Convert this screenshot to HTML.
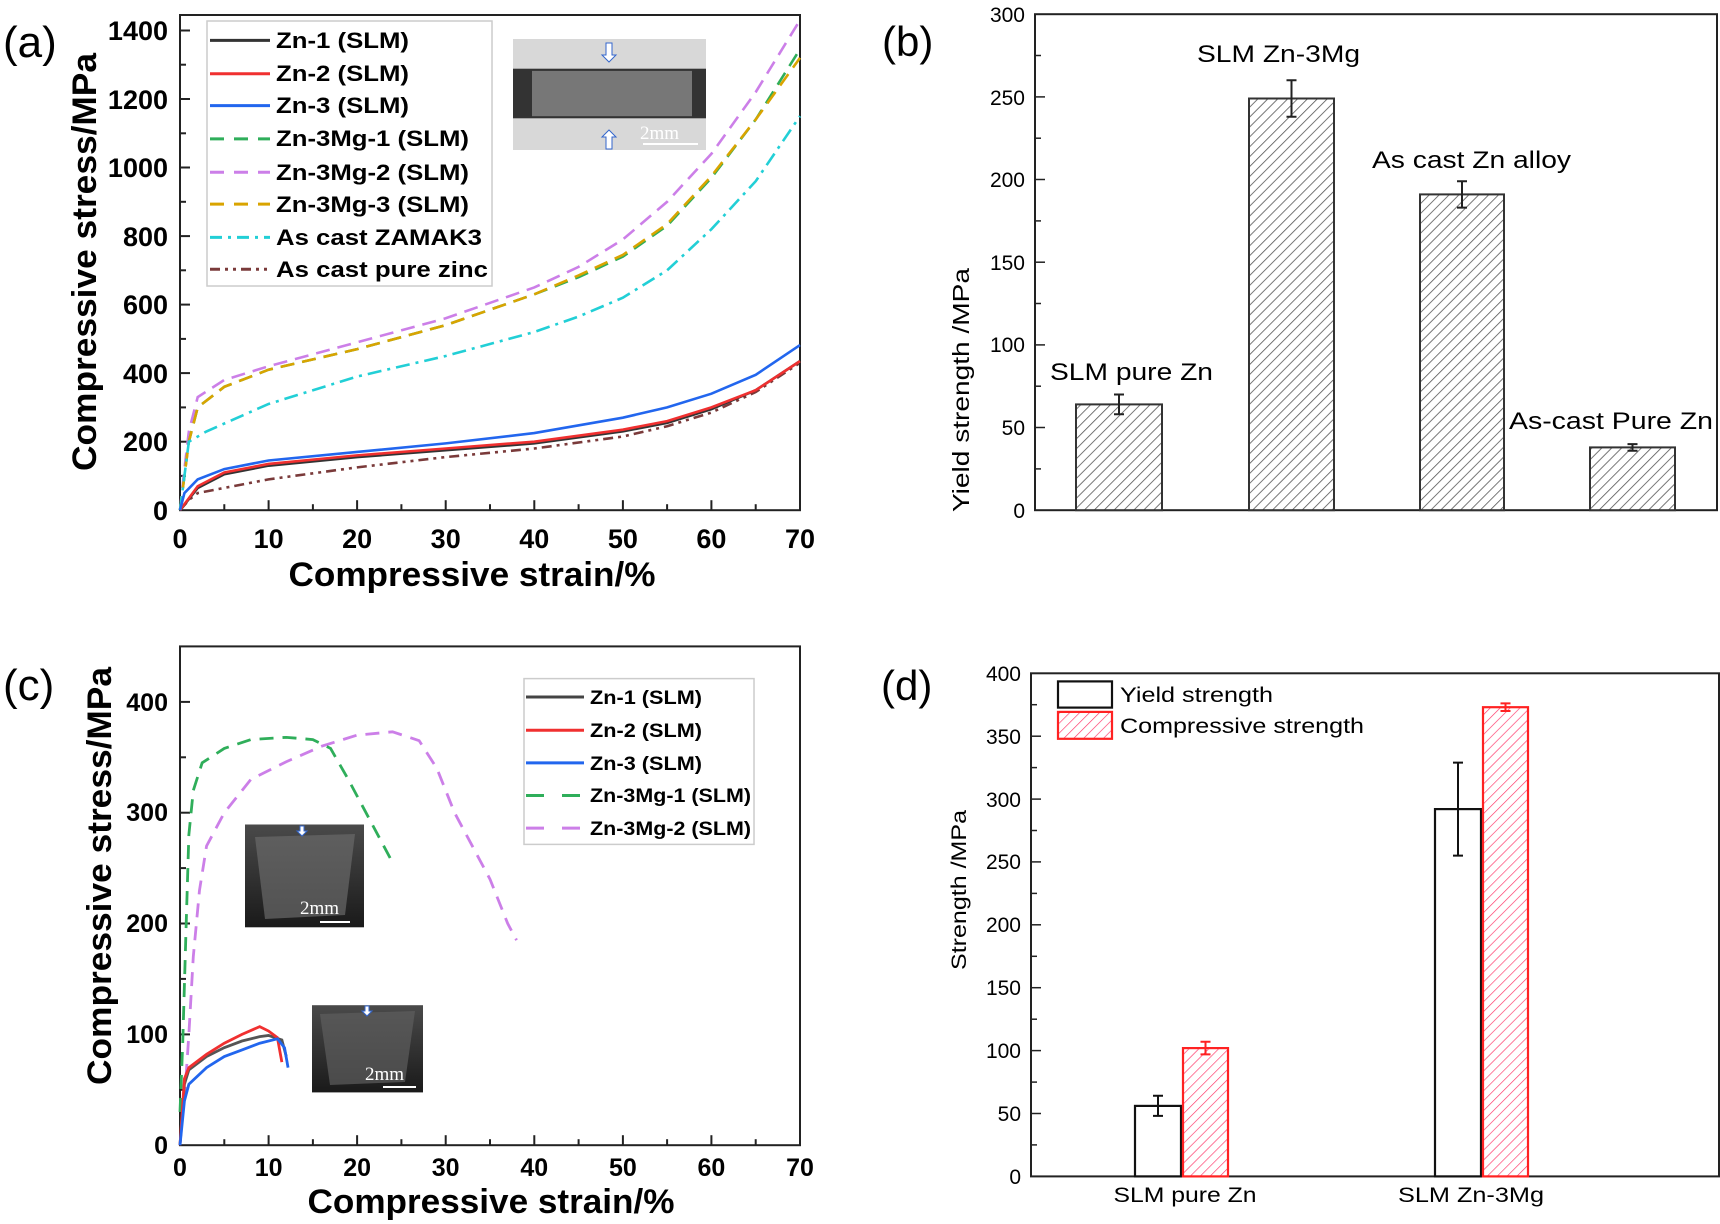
<!DOCTYPE html>
<html><head><meta charset="utf-8"><style>
html,body{margin:0;padding:0;background:#fff;overflow:hidden;}
svg{display:block;font-family:"Liberation Sans",Arial,sans-serif;}
.nss{vector-effect:non-scaling-stroke;fill:none;}
</style></head><body>
<svg width="1720" height="1224" viewBox="0 0 1720 1224" xmlns="http://www.w3.org/2000/svg">
<defs>
<pattern id="hb" patternUnits="userSpaceOnUse" width="7" height="7" patternTransform="rotate(45)">
<rect width="7" height="7" fill="#fff"/><line x1="0" y1="0" x2="0" y2="7" stroke="#555" stroke-width="1.6"/></pattern>
<pattern id="hr" patternUnits="userSpaceOnUse" width="7" height="7" patternTransform="rotate(45)">
<rect width="7" height="7" fill="#fff"/><line x1="0" y1="0" x2="0" y2="7" stroke="#f36" stroke-width="1.3"/></pattern>
<linearGradient id="ph" x1="0" y1="0" x2="0" y2="1"><stop offset="0" stop-color="#4a4a4a"/><stop offset="1" stop-color="#1a1a1a"/></linearGradient>
</defs>

<!-- ===== Panel (a) ===== -->
<text x="3" y="57" font-size="44">(a)</text>
<rect x="180" y="15" width="620" height="495.2" fill="none" stroke="#222" stroke-width="2"/>
<g stroke="#222" stroke-width="2">
<line x1="268.6" y1="510.2" x2="268.6" y2="500.2"/><line x1="357.1" y1="510.2" x2="357.1" y2="500.2"/><line x1="445.7" y1="510.2" x2="445.7" y2="500.2"/><line x1="534.3" y1="510.2" x2="534.3" y2="500.2"/><line x1="622.9" y1="510.2" x2="622.9" y2="500.2"/><line x1="711.4" y1="510.2" x2="711.4" y2="500.2"/>
<line x1="224.3" y1="510.2" x2="224.3" y2="504.2"/><line x1="312.9" y1="510.2" x2="312.9" y2="504.2"/><line x1="401.4" y1="510.2" x2="401.4" y2="504.2"/><line x1="490" y1="510.2" x2="490" y2="504.2"/><line x1="578.6" y1="510.2" x2="578.6" y2="504.2"/><line x1="667.1" y1="510.2" x2="667.1" y2="504.2"/><line x1="755.7" y1="510.2" x2="755.7" y2="504.2"/>
<line x1="180" y1="441.7" x2="190" y2="441.7"/><line x1="180" y1="373.1" x2="190" y2="373.1"/><line x1="180" y1="304.6" x2="190" y2="304.6"/><line x1="180" y1="236.1" x2="190" y2="236.1"/><line x1="180" y1="167.5" x2="190" y2="167.5"/><line x1="180" y1="99" x2="190" y2="99"/><line x1="180" y1="30.5" x2="190" y2="30.5"/>
<line x1="180" y1="475.9" x2="186" y2="475.9"/><line x1="180" y1="407.4" x2="186" y2="407.4"/><line x1="180" y1="338.9" x2="186" y2="338.9"/><line x1="180" y1="270.3" x2="186" y2="270.3"/><line x1="180" y1="201.8" x2="186" y2="201.8"/><line x1="180" y1="133.3" x2="186" y2="133.3"/><line x1="180" y1="64.7" x2="186" y2="64.7"/>
</g>
<g font-size="27" font-weight="bold" text-anchor="end">
<text x="168" y="520">0</text><text x="168" y="451">200</text><text x="168" y="383">400</text><text x="168" y="314">600</text><text x="168" y="246">800</text><text x="168" y="177">1000</text><text x="168" y="109">1200</text><text x="168" y="40">1400</text>
</g>
<g font-size="27" font-weight="bold" text-anchor="middle">
<text x="180" y="548">0</text><text x="268.6" y="548">10</text><text x="357.1" y="548">20</text><text x="445.7" y="548">30</text><text x="534.3" y="548">40</text><text x="622.9" y="548">50</text><text x="711.4" y="548">60</text><text x="800" y="548">70</text>
</g>
<text x="472" y="586" font-size="34" font-weight="bold" text-anchor="middle" textLength="367" lengthAdjust="spacingAndGlyphs">Compressive strain/%</text>
<text transform="translate(96,262) rotate(-90)" font-size="34" font-weight="bold" text-anchor="middle" textLength="418" lengthAdjust="spacingAndGlyphs">Compressive stress/MPa</text>

<!-- inset a -->
<rect x="513" y="39" width="193" height="111" fill="#d8d8d8"/>
<rect x="513" y="68.7" width="193" height="49.6" fill="#333"/>
<rect x="532" y="70.9" width="160" height="45.3" fill="#777"/>
<text x="640" y="139" font-family="Liberation Serif" font-size="19" fill="#fff">2mm</text>
<line x1="643" y1="144" x2="698" y2="144" stroke="#fff" stroke-width="2"/>
<path d="M606 43 v12 h-4 l7 7 l7 -7 h-4 v-12z" fill="#fff" stroke="#36c"/>
<path d="M606 149 v-12 h-4 l7 -7 l7 7 h-4 v12z" fill="#fff" stroke="#36c"/>

<g transform="translate(180,510.2) scale(8.857,-0.3427)" stroke-width="2.6">
<polyline class="nss" stroke="#cc7fe8" stroke-dasharray="14,8" points="0,0 0.5,120 1,230 2,330 5,380 10,420 20,490 30,560 40,650 45,710 50,790 55,900 60,1040 65,1220 70,1430"/>
<polyline class="nss" stroke="#2fae5a" stroke-dasharray="14,8" points="0,0 0.5,100 1,200 2,300 5,360 10,410 20,470 30,540 40,630 45,680 50,740 55,830 60,970 65,1140 70,1345"/>
<polyline class="nss" stroke="#d9a400" stroke-dasharray="14,8" points="0,0 0.5,100 1,200 2,300 5,360 10,410 20,470 30,540 40,630 45,685 50,745 55,835 60,975 65,1140 70,1320"/>
<polyline class="nss" stroke="#22cfd6" stroke-dasharray="14,6,3,6" points="0,0 0.5,100 1,200 3,230 10,310 20,390 30,450 40,520 45,565 50,620 55,700 60,820 65,960 70,1150"/>
<polyline class="nss" stroke="#7a3a3a" stroke-dasharray="10,5,3,5,3,5" points="0,0 1,30 2,50 10,90 20,125 30,155 40,180 50,215 55,245 60,285 65,345 70,430"/>
<polyline class="nss" stroke="#333" points="0,0 2,65 5,105 10,130 20,155 30,175 40,195 50,230 55,255 60,295 65,350 70,435"/>
<polyline class="nss" stroke="#f03030" points="0,0 2,70 5,110 10,135 20,160 30,180 40,200 50,235 55,260 60,300 65,350 70,435"/>
<polyline class="nss" stroke="#2266ee" points="0,0 0.5,50 2,90 5,120 10,145 20,170 30,195 40,225 50,270 55,300 60,340 65,395 70,482"/>
</g>

<!-- legend a -->
<rect x="207" y="21" width="285" height="265" fill="#fff" stroke="#ccc" stroke-width="1.5"/>
<g stroke-width="3">
<line x1="210" y1="40.4" x2="270" y2="40.4" stroke="#333"/>
<line x1="210" y1="73.7" x2="270" y2="73.7" stroke="#f03030"/>
<line x1="210" y1="105.6" x2="270" y2="105.6" stroke="#2266ee"/>
<line x1="210" y1="138.9" x2="270" y2="138.9" stroke="#2fae5a" stroke-dasharray="14,10"/>
<line x1="210" y1="172.2" x2="270" y2="172.2" stroke="#cc7fe8" stroke-dasharray="14,10"/>
<line x1="210" y1="204.1" x2="270" y2="204.1" stroke="#d9a400" stroke-dasharray="14,10"/>
<line x1="210" y1="237.4" x2="270" y2="237.4" stroke="#22cfd6" stroke-dasharray="12,6,3,6"/>
<line x1="210" y1="269.3" x2="270" y2="269.3" stroke="#7a3a3a" stroke-dasharray="10,5,3,5,3,5"/>
</g>
<g font-size="22" font-weight="bold">
<text x="276" y="48" textLength="133" lengthAdjust="spacingAndGlyphs">Zn-1 (SLM)</text>
<text x="276" y="81" textLength="133" lengthAdjust="spacingAndGlyphs">Zn-2 (SLM)</text>
<text x="276" y="113" textLength="133" lengthAdjust="spacingAndGlyphs">Zn-3 (SLM)</text>
<text x="276" y="146" textLength="193" lengthAdjust="spacingAndGlyphs">Zn-3Mg-1 (SLM)</text>
<text x="276" y="180" textLength="193" lengthAdjust="spacingAndGlyphs">Zn-3Mg-2 (SLM)</text>
<text x="276" y="212" textLength="193" lengthAdjust="spacingAndGlyphs">Zn-3Mg-3 (SLM)</text>
<text x="276" y="245" textLength="206" lengthAdjust="spacingAndGlyphs">As cast ZAMAK3</text>
<text x="276" y="277" textLength="212" lengthAdjust="spacingAndGlyphs">As cast pure zinc</text>
</g>

<!-- ===== Panel (b) ===== -->
<text x="882" y="56" font-size="42">(b)</text>
<rect x="1035" y="14.2" width="682" height="496" fill="none" stroke="#222" stroke-width="2"/>
<g stroke="#222" stroke-width="1.5">
<line x1="1035" y1="427.5" x2="1045" y2="427.5"/><line x1="1035" y1="344.9" x2="1045" y2="344.9"/><line x1="1035" y1="262.2" x2="1045" y2="262.2"/><line x1="1035" y1="179.5" x2="1045" y2="179.5"/><line x1="1035" y1="96.9" x2="1045" y2="96.9"/>
<line x1="1035" y1="468.9" x2="1041" y2="468.9"/><line x1="1035" y1="386.2" x2="1041" y2="386.2"/><line x1="1035" y1="303.5" x2="1041" y2="303.5"/><line x1="1035" y1="220.9" x2="1041" y2="220.9"/><line x1="1035" y1="138.2" x2="1041" y2="138.2"/><line x1="1035" y1="55.5" x2="1041" y2="55.5"/>
</g>
<g font-size="21" text-anchor="end">
<text x="1025" y="518">0</text><text x="1025" y="435">50</text><text x="1025" y="352">100</text><text x="1025" y="270">150</text><text x="1025" y="187">200</text><text x="1025" y="105">250</text><text x="1025" y="22">300</text>
</g>
<text transform="translate(969,390) rotate(-90)" font-size="23" text-anchor="middle" textLength="244" lengthAdjust="spacingAndGlyphs">Yield strength /MPa</text>
<g stroke="#333" stroke-width="2" fill="url(#hb)">
<rect x="1076" y="404.4" width="86" height="105.8"/>
<rect x="1249" y="98.5" width="85" height="411.7"/>
<rect x="1420" y="194.4" width="84" height="315.8"/>
<rect x="1590" y="447.4" width="85" height="62.8"/>
</g>
<g stroke="#222" stroke-width="2">
<path d="M1119 394.5v19.8M1114 394.5h10M1114 414.3h10"/>
<path d="M1291.5 80.3v36.4M1286.5 80.3h10M1286.5 116.7h10"/>
<path d="M1462 181.2v26.4M1457 181.2h10M1457 207.6h10"/>
<path d="M1632.5 444.1v6.6M1627.5 444.1h10M1627.5 450.7h10"/>
</g>
<g font-size="24">
<text x="1050" y="380" textLength="163" lengthAdjust="spacingAndGlyphs">SLM pure Zn</text>
<text x="1197" y="62" textLength="163" lengthAdjust="spacingAndGlyphs">SLM Zn-3Mg</text>
<text x="1372" y="168" textLength="199" lengthAdjust="spacingAndGlyphs">As cast Zn alloy</text>
<text x="1509" y="429" textLength="204" lengthAdjust="spacingAndGlyphs">As-cast Pure Zn</text>
</g>

<!-- ===== Panel (c) ===== -->
<text x="3" y="700" font-size="44">(c)</text>
<rect x="180" y="646.4" width="620" height="498.8" fill="none" stroke="#222" stroke-width="2"/>
<g stroke="#222" stroke-width="2">
<line x1="268.6" y1="1145.2" x2="268.6" y2="1135.2"/><line x1="357.1" y1="1145.2" x2="357.1" y2="1135.2"/><line x1="445.7" y1="1145.2" x2="445.7" y2="1135.2"/><line x1="534.3" y1="1145.2" x2="534.3" y2="1135.2"/><line x1="622.9" y1="1145.2" x2="622.9" y2="1135.2"/><line x1="711.4" y1="1145.2" x2="711.4" y2="1135.2"/>
<line x1="224.3" y1="1145.2" x2="224.3" y2="1139.2"/><line x1="312.9" y1="1145.2" x2="312.9" y2="1139.2"/><line x1="401.4" y1="1145.2" x2="401.4" y2="1139.2"/><line x1="490" y1="1145.2" x2="490" y2="1139.2"/><line x1="578.6" y1="1145.2" x2="578.6" y2="1139.2"/><line x1="667.1" y1="1145.2" x2="667.1" y2="1139.2"/><line x1="755.7" y1="1145.2" x2="755.7" y2="1139.2"/>
<line x1="180" y1="1034.4" x2="190" y2="1034.4"/><line x1="180" y1="923.5" x2="190" y2="923.5"/><line x1="180" y1="812.7" x2="190" y2="812.7"/><line x1="180" y1="701.9" x2="190" y2="701.9"/>
<line x1="180" y1="1089.8" x2="186" y2="1089.8"/><line x1="180" y1="978.9" x2="186" y2="978.9"/><line x1="180" y1="868.1" x2="186" y2="868.1"/><line x1="180" y1="757.3" x2="186" y2="757.3"/>
</g>
<g font-size="25" font-weight="bold" text-anchor="end">
<text x="168" y="1154">0</text><text x="168" y="1043">100</text><text x="168" y="932">200</text><text x="168" y="821">300</text><text x="168" y="711">400</text>
</g>
<g font-size="25" font-weight="bold" text-anchor="middle">
<text x="180" y="1176">0</text><text x="268.6" y="1176">10</text><text x="357.1" y="1176">20</text><text x="445.7" y="1176">30</text><text x="534.3" y="1176">40</text><text x="622.9" y="1176">50</text><text x="711.4" y="1176">60</text><text x="800" y="1176">70</text>
</g>
<text x="491" y="1213" font-size="34" font-weight="bold" text-anchor="middle" textLength="367" lengthAdjust="spacingAndGlyphs">Compressive strain/%</text>
<text transform="translate(111,876) rotate(-90)" font-size="34" font-weight="bold" text-anchor="middle" textLength="418" lengthAdjust="spacingAndGlyphs">Compressive stress/MPa</text>

<g transform="translate(180,1145.2) scale(8.857,-1.1083)" stroke-width="2.8">
<polyline class="nss" stroke="#cc7fe8" stroke-dasharray="14,9" points="0.5,40 1,100 1.5,170 2.2,230 3,270 5,300 8,330 12,346 16,360 20,370 24,373 27,365 29,340 31,300 33,270 35,240 37,200 38,185"/>
<polyline class="nss" stroke="#2fae5a" stroke-dasharray="14,9" points="0,30 0.3,90 0.7,200 1,280 1.5,320 2.5,345 5,358 8,366 12,368 15,366 17,358 19,330 21,300 23,270 24,255"/>
<polyline class="nss" stroke="#555" points="0,0 0.5,55 1,68 3,80 5,88 7,94 9,98 10,99 11.5,95 12,80"/>
<polyline class="nss" stroke="#f03030" points="0,0 0.5,60 1,70 3,82 5,92 7,100 9,107 10,103 11,97 11.5,75"/>
<polyline class="nss" stroke="#2266ee" points="0,0 0.5,40 1,55 3,70 5,80 7,86 9,92 11,96 11.8,88 12.2,70"/>
</g>

<!-- insets c -->
<rect x="245" y="824.5" width="119" height="102.8" fill="url(#ph)"/>
<path d="M255 837 L355 834 L345 915 L265 919 Z" fill="#6a6a6a" opacity="0.7"/>
<text x="300" y="914" font-family="Liberation Serif" font-size="19" fill="#fff">2mm</text>
<line x1="320" y1="922" x2="350" y2="922" stroke="#fff" stroke-width="2"/>
<rect x="312" y="1005.2" width="111" height="87.2" fill="url(#ph)"/>
<path d="M320 1014 L415 1011 L405 1082 L330 1085 Z" fill="#5e5e5e" opacity="0.7"/>
<text x="365" y="1080" font-family="Liberation Serif" font-size="19" fill="#fff">2mm</text>
<line x1="383" y1="1087" x2="416" y2="1087" stroke="#fff" stroke-width="2"/>
<path d="M300 826 v5 h-3 l5 5 l5 -5 h-3 v-5z" fill="#fff" stroke="#36c"/>
<path d="M365 1006 v5 h-3 l5 5 l5 -5 h-3 v-5z" fill="#fff" stroke="#36c"/>

<!-- legend c -->
<rect x="524" y="678.6" width="230" height="165.8" fill="#fff" stroke="#ccc" stroke-width="1.5"/>
<g stroke-width="3">
<line x1="526" y1="697" x2="584" y2="697" stroke="#444"/>
<line x1="526" y1="730.3" x2="584" y2="730.3" stroke="#f03030"/>
<line x1="526" y1="762.9" x2="584" y2="762.9" stroke="#2266ee"/>
<line x1="526" y1="795.5" x2="584" y2="795.5" stroke="#2fae5a" stroke-dasharray="18,18"/>
<line x1="526" y1="828.1" x2="584" y2="828.1" stroke="#cc7fe8" stroke-dasharray="18,18"/>
</g>
<g font-size="19" font-weight="bold">
<text x="590" y="704" textLength="112" lengthAdjust="spacingAndGlyphs">Zn-1 (SLM)</text>
<text x="590" y="737" textLength="112" lengthAdjust="spacingAndGlyphs">Zn-2 (SLM)</text>
<text x="590" y="770" textLength="112" lengthAdjust="spacingAndGlyphs">Zn-3 (SLM)</text>
<text x="590" y="802" textLength="161" lengthAdjust="spacingAndGlyphs">Zn-3Mg-1 (SLM)</text>
<text x="590" y="835" textLength="161" lengthAdjust="spacingAndGlyphs">Zn-3Mg-2 (SLM)</text>
</g>

<!-- ===== Panel (d) ===== -->
<text x="881" y="700" font-size="42">(d)</text>
<rect x="1031" y="673.3" width="688" height="503.1" fill="none" stroke="#222" stroke-width="2"/>
<g stroke="#222" stroke-width="1.5">
<line x1="1031" y1="1113.5" x2="1041" y2="1113.5"/><line x1="1031" y1="1050.6" x2="1041" y2="1050.6"/><line x1="1031" y1="987.7" x2="1041" y2="987.7"/><line x1="1031" y1="924.8" x2="1041" y2="924.8"/><line x1="1031" y1="861.9" x2="1041" y2="861.9"/><line x1="1031" y1="799.1" x2="1041" y2="799.1"/><line x1="1031" y1="736.2" x2="1041" y2="736.2"/>
<line x1="1031" y1="1144.9" x2="1037" y2="1144.9"/><line x1="1031" y1="1082.1" x2="1037" y2="1082.1"/><line x1="1031" y1="1019.2" x2="1037" y2="1019.2"/><line x1="1031" y1="956.3" x2="1037" y2="956.3"/><line x1="1031" y1="893.4" x2="1037" y2="893.4"/><line x1="1031" y1="830.5" x2="1037" y2="830.5"/><line x1="1031" y1="767.6" x2="1037" y2="767.6"/><line x1="1031" y1="704.7" x2="1037" y2="704.7"/>
</g>
<g font-size="21" text-anchor="end">
<text x="1021" y="1184">0</text><text x="1021" y="1121">50</text><text x="1021" y="1058">100</text><text x="1021" y="995">150</text><text x="1021" y="932">200</text><text x="1021" y="869">250</text><text x="1021" y="807">300</text><text x="1021" y="744">350</text><text x="1021" y="681">400</text>
</g>
<text transform="translate(966,890) rotate(-90)" font-size="21" text-anchor="middle" textLength="160" lengthAdjust="spacingAndGlyphs">Strength /MPa</text>
<rect x="1135" y="1105.9" width="46" height="70.5" fill="#fff" stroke="#111" stroke-width="2.2"/>
<rect x="1183" y="1048.1" width="45" height="128.3" fill="url(#hr)" stroke="#f22" stroke-width="2.2"/>
<rect x="1435" y="809.1" width="46" height="367.3" fill="#fff" stroke="#111" stroke-width="2.2"/>
<rect x="1483" y="707.2" width="45" height="469.2" fill="url(#hr)" stroke="#f22" stroke-width="2.2"/>
<g stroke="#111" stroke-width="2"><path d="M1158 1095.8v20.1M1153 1095.8h10M1153 1115.9h10"/><path d="M1458 762.6v93M1453 762.6h10M1453 855.6h10"/></g>
<g stroke="#f22" stroke-width="2"><path d="M1205.5 1041.8v12.6M1200.5 1041.8h10M1200.5 1054.4h10"/><path d="M1505.5 703.4v7.6M1500.5 703.4h10M1500.5 711h10"/></g>
<rect x="1058" y="681.4" width="54" height="26.2" fill="#fff" stroke="#111" stroke-width="2.2"/>
<rect x="1058" y="711.9" width="54" height="26.9" fill="url(#hr)" stroke="#f22" stroke-width="2.2"/>
<g font-size="21">
<text x="1120" y="702" textLength="153" lengthAdjust="spacingAndGlyphs">Yield strength</text>
<text x="1120" y="733" textLength="244" lengthAdjust="spacingAndGlyphs">Compressive strength</text>
</g>
<g font-size="21" text-anchor="middle">
<text x="1185" y="1202" textLength="143" lengthAdjust="spacingAndGlyphs">SLM pure Zn</text>
<text x="1471" y="1202" textLength="146" lengthAdjust="spacingAndGlyphs">SLM Zn-3Mg</text>
</g>
</svg>
</body></html>
